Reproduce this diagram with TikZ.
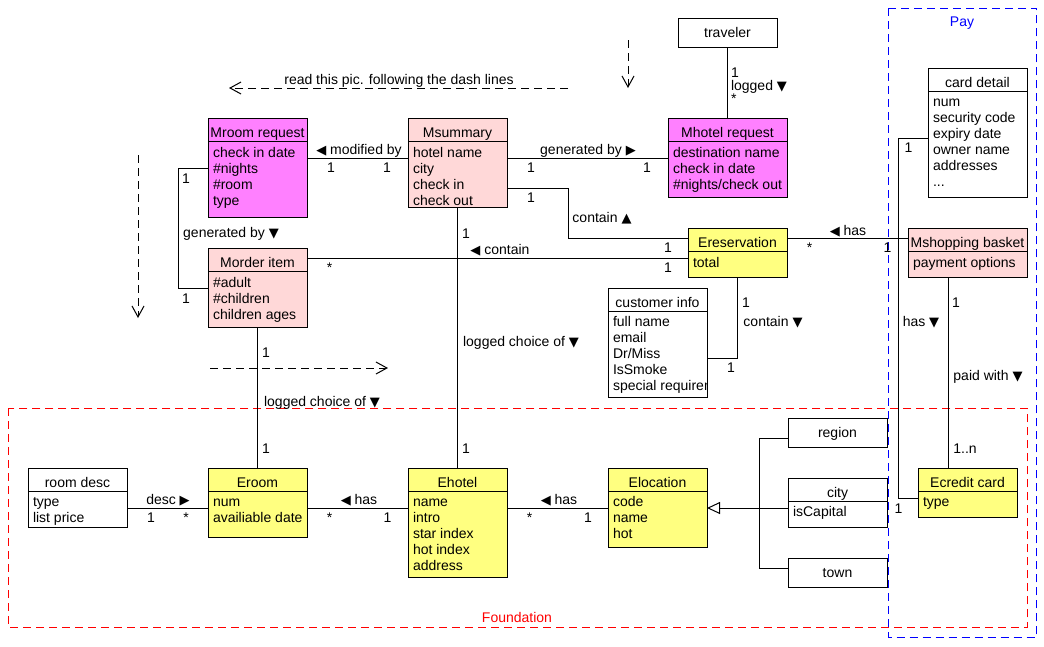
\documentclass[tikz,border=0pt]{standalone}
\usepackage{fontspec}
\setmainfont{Liberation Sans}
\newfontfamily\symf{DejaVu Sans}
\usetikzlibrary{arrows.meta}
\definecolor{cmag}{HTML}{FF80FF}
\definecolor{cpink}{HTML}{FFD8D8}
\definecolor{cyel}{HTML}{FFFF80}
\newcommand\tDown{{\symf\fontsize{13}{13}\selectfont ▼}}
\newcommand\tUp{{\symf\fontsize{13}{13}\selectfont ▲}}
\newcommand\tLeft{{\symf\fontsize{13}{13}\selectfont ◀}}
\newcommand\tRight{{\symf\fontsize{13}{13}\selectfont ▶}}
\newcommand\threedots{...}
\tikzset{
 clsbox/.style={draw, line width=1pt, inner sep=0pt, outer sep=0pt},
 lbl/.style={inner sep=0pt, outer sep=0pt, font=\fontsize{14}{16}\selectfont},
 conn/.style={line width=1pt},
 hint/.style={line width=1pt, dash pattern=on 8pt off 5pt, -{Straight Barb[length=11pt,width=12pt]}},
 frame/.style={line width=1pt, dash pattern=on 8pt off 5pt},
}
% name, x1, y1, x2, y2, header bottom, fill, title, attributes
\newcommand\umlcls[9]{%
  \node[clsbox, fill=#7, minimum width={(#4-#2)*1pt}, minimum height={(#5-#3)*1pt}] (#1) at ({(#2+#4)/2},{(#3+#5)/2}) {};
  \draw[conn] ([yshift={-(#6-#3)*1pt}]#1.north west) -- ([yshift={-(#6-#3)*1pt}]#1.north east);
  \node[lbl, anchor=base] (#1-t) at ({(#2+#4)/2},{#3+19}) {#8};
  \foreach \t [count=\i from 0] in {#9} {\node[lbl, anchor=base west] (#1-a\i) at ({#2+5},{#6+15.5+16*\i}) {\t};}
}
\newcommand\lab[4]{\node[lbl, anchor=base] (#1) at (#2,#3) {#4};}
\newcommand\labw[4]{\node[lbl, anchor=base west] (#1) at (#2,#3) {#4};}
\begin{document}
\begin{tikzpicture}[x=1pt, y=-1pt]
\useasboundingbox (0,0) rectangle (1044,646);
% frames
\draw[frame, red] (8.3,408.3) rectangle (1027.3,627.3);
\node[lbl, anchor=base, text=red] (found) at (517,622) {Foundation};
\draw[frame, blue] (888.5,8.3) rectangle (1036.5,637.3);
\node[lbl, anchor=base, text=blue] (pay) at (962,26.5) {Pay};

% reading hints
\coordinate (h1s) at (568,88); \coordinate (h1e) at (229,88);
\coordinate (h2s) at (628,40); \coordinate (h2e) at (628,88);
\coordinate (h3s) at (138,155); \coordinate (h3e) at (138,318);
\coordinate (h4s) at (210,368); \coordinate (h4e) at (388,368);
\draw[hint] (h1s) -- (h1e);
\draw[hint] (h2s) -- (h2e);
\draw[hint] (h3s) -- (h3e);
\draw[hint] (h4s) -- (h4e);
\lab{hint}{399}{84}{read this pic. following the dash lines}

% simple boxes
\node[clsbox, fill=white, minimum width=99pt, minimum height=29pt] (trav) at (727.5,32.5) {};
\node[lbl, anchor=base] (trav-t) at (727.5,37.5) {traveler};
\node[clsbox, fill=white, minimum width=99pt, minimum height=29pt] (region) at (837.5,432.5) {};
\node[lbl, anchor=base] (region-t) at (837.5,437.5) {region};
\node[clsbox, fill=white, minimum width=99pt, minimum height=29pt] (town) at (837.5,572.5) {};
\node[lbl, anchor=base] (town-t) at (837.5,577.5) {town};

% classes
\umlcls{mroom}{208}{118}{307}{217}{141.5}{cmag}{Mroom request}{check in date,\#nights,\#room,type}
\umlcls{msum}{408}{118}{507}{207}{141.5}{cpink}{Msummary}{hotel name,city,check in,check out}
\umlcls{mhot}{668}{118}{787}{197}{141.5}{cmag}{Mhotel request}{destination name,check in date,\#nights/check out}
\umlcls{morder}{208}{248}{307}{327}{271.5}{cpink}{Morder item}{\#adult,\#children,children ages}
\umlcls{eres}{688}{228}{787}{277}{251.5}{cyel}{Ereservation}{total}
\umlcls{mshop}{908}{228}{1027}{277}{251.5}{cpink}{Mshopping basket}{payment options}
\umlcls{card}{928}{68}{1027}{197}{91}{white}{card detail}{num,security code,expiry date,owner name,addresses,\threedots}
\begin{scope}
\clip (600,280) rectangle (707.8,400);
\umlcls{cust}{608}{288}{707}{397}{311}{white}{customer info}{full name,email,Dr/Miss,IsSmoke,special requirements}
\end{scope}
\draw[conn] (cust.north east) -- (cust.south east);
\umlcls{rdesc}{28}{468}{127}{527}{491}{white}{room desc}{type,list price}
\umlcls{eroom}{208}{468}{307}{537}{491}{cyel}{Eroom}{num,availiable date}
\umlcls{ehot}{408}{468}{507}{577}{491}{cyel}{Ehotel}{name,intro,star index,hot index,address}
\umlcls{eloc}{608}{468}{707}{547}{491}{cyel}{Elocation}{code,name,hot}
\umlcls{city}{788}{478}{887}{527}{501}{white}{city}{isCapital}
\umlcls{ecc}{918}{468}{1017}{517}{491}{cyel}{Ecredit card}{type}

% connectors
\draw[conn] (trav.south) -- (mhot.north);
\draw[conn] ([yshift=-40pt]mroom.north east) -- ([yshift=-40pt]msum.north west);
\draw[conn] ([yshift=-40pt]msum.north east) -- ([yshift=-40pt]mhot.north west);
\draw[conn] ([yshift=-70pt]msum.north east) -- ++(61,0) |- ([yshift=-10pt]eres.north west);
\draw[conn] ([yshift=-10pt]morder.north east) -- ([yshift=-30pt]eres.north west);
\draw[conn] ([yshift=-50pt]mroom.north west) -- ++(-30,0) |- ([yshift=-40pt]morder.north west);
\draw[conn] (msum.south) -- (ehot.north);
\draw[conn] (morder.south) -- (eroom.north);
\draw[conn] (eres.south) |- ([yshift=-70pt]cust.north east);
\draw[conn] ([yshift=-10pt]eres.north east) -- ([yshift=-10pt]mshop.north west);
\draw[conn] ([xshift=-19.5pt]mshop.south) -- ([xshift=-19.5pt]ecc.north);
\draw[conn] ([yshift=-70pt]card.north west) -- ++(-30,0) |- ([yshift=-30pt]ecc.north west);
\draw[conn] ([yshift=-40pt]rdesc.north east) -- ([yshift=-40pt]eroom.north west);
\draw[conn] ([yshift=-40pt]eroom.north east) -- ([yshift=-40pt]ehot.north west);
\draw[conn] ([yshift=-40pt]ehot.north east) -- ([yshift=-40pt]eloc.north west);
\draw[conn] ([yshift=-20pt]region.north west) -- ++(-29,0) |- ([yshift=-10pt]town.north west);
\draw[conn, -{Triangle[open, length=13pt, width=12pt]}] ([yshift=-30pt]city.north west) -- ([yshift=-40pt]eloc.north east);

% labels
\labw{t1}{731}{77}{1}
\labw{t2}{731}{90}{logged \tDown}
\labw{t3}{731}{103}{*}
\lab{l1}{359}{154.5}{\tLeft\ modified by}
\lab{l2}{331}{172.5}{1}
\lab{l3}{387}{172.5}{1}
\lab{l4}{588}{154.5}{generated by \tRight}
\lab{l5}{531}{172.5}{1}
\lab{l6}{647}{172.5}{1}
\lab{l7}{531}{202.5}{1}
\lab{l8}{602}{222}{contain \tUp}
\lab{l9}{668}{252}{1}
\lab{l10}{668}{272}{1}
\lab{l11}{500}{254}{\tLeft\ contain}
\lab{l12}{329.5}{272.5}{*}
\lab{l13}{231}{237}{generated by \tDown}
\lab{l14}{186}{183}{1}
\lab{l15}{186}{303.5}{1}
\lab{l16}{466}{238}{1}
\lab{l17}{521}{346.5}{logged choice of \tDown}
\lab{l18}{466}{453}{1}
\lab{l19}{266}{357.5}{1}
\lab{l20}{322}{406.5}{logged choice of \tDown}
\lab{l21}{266}{453}{1}
\lab{l22}{848}{235}{\tLeft\ has}
\lab{l23}{809.5}{252.5}{*}
\lab{l24}{887.5}{252}{1}
\lab{l25}{746}{307}{1}
\lab{l26}{773}{326}{contain \tDown}
\lab{l27}{731}{372}{1}
\lab{l28}{921}{326}{has \tDown}
\lab{l29}{956}{307}{1}
\lab{l30}{988}{380.5}{paid with \tDown}
\lab{l31}{965}{453}{1..n}
\lab{l32}{908.5}{152}{1}
\lab{l33}{898.5}{513.5}{1}
\lab{l34}{168}{504.5}{desc \tRight}
\lab{l35}{151}{522.5}{1}
\lab{l36}{186}{522.5}{*}
\lab{l37}{359}{504.5}{\tLeft\ has}
\lab{l38}{329.5}{522.5}{*}
\lab{l39}{387.5}{522.5}{1}
\lab{l40}{559}{504.5}{\tLeft\ has}
\lab{l41}{529.5}{522.5}{*}
\lab{l42}{588}{522.5}{1}
\end{tikzpicture}
\end{document}
